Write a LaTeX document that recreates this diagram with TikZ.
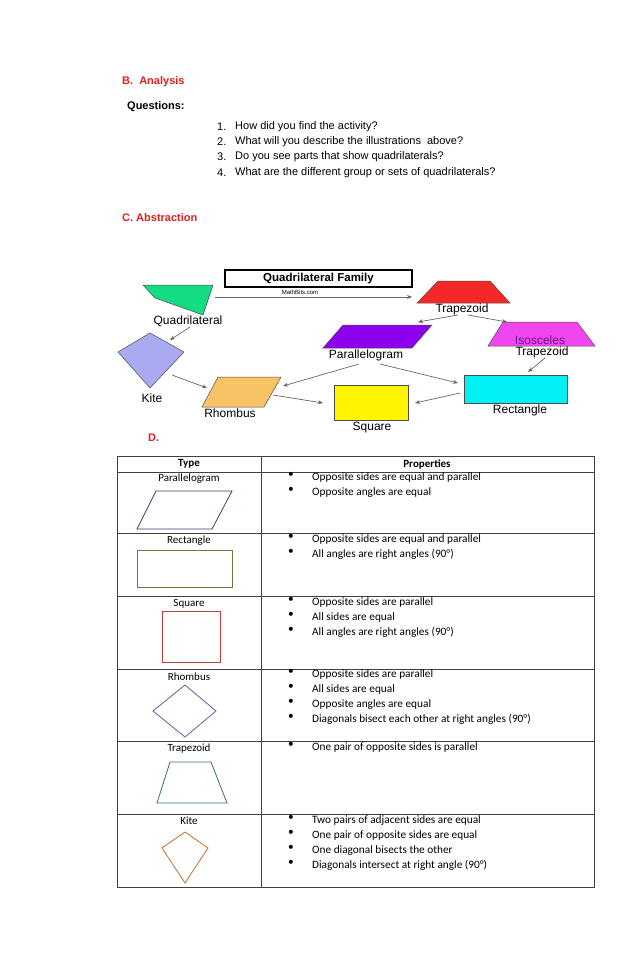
\documentclass[tikz,border=0pt]{standalone}
\usepackage{fontspec}
\setmainfont{Liberation Sans}
\newfontfamily\calfont{Carlito}
\usetikzlibrary{arrows.meta}
\definecolor{hred}{HTML}{E0201F}
\tikzset{
  head/.style={anchor=west,inner sep=0,font=\fontsize{11}{13}\selectfont\bfseries,text=hred},
  qtext/.style={anchor=west,inner sep=0,font=\fontsize{11}{13}\selectfont},
  lab/.style={inner sep=0,font=\fontsize{12}{14}\selectfont},
  shp/.style={draw=black!70,line width=0.5pt},
  arr/.style={draw=black!60,line width=0.7pt,-{Stealth[length=5pt,width=4pt]}},
  tline/.style={draw=black!75,line width=0.8pt},
  ttype/.style={inner sep=0,font=\calfont\fontsize{11}{13}\selectfont},
  tprop/.style={anchor=north west,inner sep=0,font=\calfont\fontsize{11.3}{15}\selectfont,align=left},
  tbul/.style={anchor=north west,inner sep=0,font=\calfont\fontsize{11.3}{15}\selectfont,align=left},
  outl/.style={line width=0.8pt}
}
\begin{document}
\begin{tikzpicture}[x=1pt,y=-1pt]
\useasboundingbox (0,0) rectangle (638,976);
\fill[white] (0,0) rectangle (638,976);
% top text
\node[head] (b) at (122,82) {B.\ \ Analysis};
\node[qtext,font=\fontsize{11}{13}\selectfont\bfseries] (q) at (127,107) {Questions:};
\node[qtext] (n1) at (217,127) {1.};
\node[qtext] (t1) at (235,127) {How did you find the activity?};
\node[qtext] (n2) at (217,142) {2.};
\node[qtext] (t2) at (235,142) {What will you describe the illustrations\ \ above?};
\node[qtext] (n3) at (217,157) {3.};
\node[qtext] (t3) at (235,157) {Do you see parts that show quadrilaterals?};
\node[qtext] (n4) at (217,173) {4.};
\node[qtext] (t4) at (235,173) {What are the different group or sets of quadrilaterals?};
\node[head] (c) at (122,218) {C. Abstraction};
\node[head] (d) at (148,438) {D.};
% family diagram
\node[draw,line width=1.2pt,inner sep=0,minimum width=187pt,minimum height=17pt,font=\fontsize{11.5}{13}\selectfont\bfseries] (title) at (318.5,278.5) {Quadrilateral Family};
\node[inner sep=0,font=\fontsize{6}{7}\selectfont] (mb) at (300,292) {MathBits.com};
\filldraw[shp,fill={rgb,255:red,20;green,220;blue,130}] (143,285)--(213,285)--(203,315)--(155,298)--cycle;
\node[lab] (lq) at (188,321) {Quadrilateral};
\filldraw[shp,fill={rgb,255:red,170;green,170;blue,240}] (150,333)--(184,352)--(150,388)--(118,352)--cycle;
\node[lab] (lk) at (152,398) {Kite};
\filldraw[shp,fill={rgb,255:red,248;green,195;blue,100}] (202,407)--(218,377)--(281,377)--(264,407)--cycle;
\node[lab] (lr) at (230,413) {Rhombus};
\filldraw[shp,fill={rgb,255:red,255;green,245;blue,0}] (334,385) rectangle (408,420);
\node[lab] (ls) at (372,428) {Square};
\filldraw[shp,fill={rgb,255:red,140;green,0;blue,235}] (323,348)--(343,325)--(432,325)--(412,348)--cycle;
\node[lab] (lp) at (366,355) {Parallelogram};
\filldraw[shp,fill={rgb,255:red,245;green,40;blue,40}] (417,303)--(438,281)--(490,281)--(510,303)--cycle;
\node[lab] (lt) at (462,309) {Trapezoid};
\filldraw[shp,fill={rgb,255:red,240;green,70;blue,240}] (488,346)--(503,322)--(577,322)--(595,346)--cycle;
\node[lab,text={rgb,255:red,110;green,20;blue,140}] (li) at (540,340) {Isosceles};
\node[lab] (lt2) at (542,352) {Trapezoid};
\filldraw[shp,fill={rgb,255:red,0;green,240;blue,245}] (464,375) rectangle (567,403);
\node[lab] (lre) at (520,410) {Rectangle};
% arrow end points
\coordinate (a1) at (215,297); \coordinate (a2) at (412,297);
\coordinate (b1) at (190,327); \coordinate (b2) at (170,340);
\coordinate (c1) at (172,375); \coordinate (c2) at (207,388);
\coordinate (d1) at (458,315); \coordinate (d2) at (418,322);
\coordinate (e1) at (468,315); \coordinate (e2) at (507,322);
\coordinate (f1) at (359,364); \coordinate (f2) at (283,386);
\coordinate (g1) at (380,364); \coordinate (g2) at (458,383);
\coordinate (h1) at (545,358); \coordinate (h2) at (528,372);
\coordinate (i1) at (273,395); \coordinate (i2) at (323,403);
\coordinate (j1) at (460,393); \coordinate (j2) at (415,403);
\foreach \s/\e in {a1/a2,b1/b2,c1/c2,d1/d2,e1/e2,f1/f2,g1/g2,h1/h2,i1/i2,j1/j2}
  \draw[arr] (\s) -- (\e);
% table
\draw[tline] (117,456) rectangle (594,887);
\draw[tline] (261,456) -- (261,887);
\foreach \y in {472,533,596,669,741,814} \draw[tline] (117,\y) -- (594,\y);
\node[ttype,font=\calfont\fontsize{11}{13}\selectfont\bfseries] (h1t) at (189,464) {Type};
\node[ttype,font=\calfont\fontsize{11}{13}\selectfont\bfseries] (h2t) at (427,464) {Properties};
\node[ttype] (tp) at (189,479) {Parallelogram};
\node[ttype] (tr) at (189,541) {Rectangle};
\node[ttype] (tsq) at (189,604) {Square};
\node[ttype] (trh) at (189,677) {Rhombus};
\node[ttype] (ttr) at (189,749) {Trapezoid};
\node[ttype] (tk) at (189,821) {Kite};
\draw[outl,draw={rgb,255:red,40;green,70;blue,110}] (137,529)--(156,491)--(232,491)--(212,529)--cycle;
\draw[outl,draw={rgb,255:red,110;green,120;blue,60}] (137,550) rectangle (232,587);
\draw[outl,draw={rgb,255:red,190;green,60;blue,60}] (162,611) rectangle (220,662);
\draw[outl,draw={rgb,255:red,110;green,90;blue,150}] (185,685)--(216,711)--(185,737)--(153,711)--cycle;
\draw[outl,draw={rgb,255:red,50;green,110;blue,120}] (157,803)--(170,762)--(211,762)--(227,803)--cycle;
\draw[outl,draw={rgb,255:red,190;green,110;blue,50}] (185,832)--(208,848)--(185,883)--(162,848)--cycle;
\node[tbul] (u1) at (288,472) {•\\•};
\node[tprop] (p1) at (312,472) {Opposite sides are equal and parallel\\Opposite angles are equal};
\node[tbul] (u2) at (288,534) {•\\•};
\node[tprop] (p2) at (312,534) {Opposite sides are equal and parallel\\All angles are right angles (90°)};
\node[tbul] (u3) at (288,597) {•\\•\\•};
\node[tprop] (p3) at (312,597) {Opposite sides are parallel\\All sides are equal\\All angles are right angles (90°)};
\node[tbul] (u4) at (288,669) {•\\•\\•\\•};
\node[tprop] (p4) at (312,669) {Opposite sides are parallel\\All sides are equal\\Opposite angles are equal\\Diagonals bisect each other at right angles (90°)};
\node[tbul] (u5) at (288,742) {•};
\node[tprop] (p5) at (312,742) {One pair of opposite sides is parallel};
\node[tbul] (u6) at (288,815) {•\\•\\•\\•};
\node[tprop] (p6) at (312,815) {Two pairs of adjacent sides are equal\\One pair of opposite sides are equal\\One diagonal bisects the other\\Diagonals intersect at right angle (90°)};
\end{tikzpicture}
\end{document}
